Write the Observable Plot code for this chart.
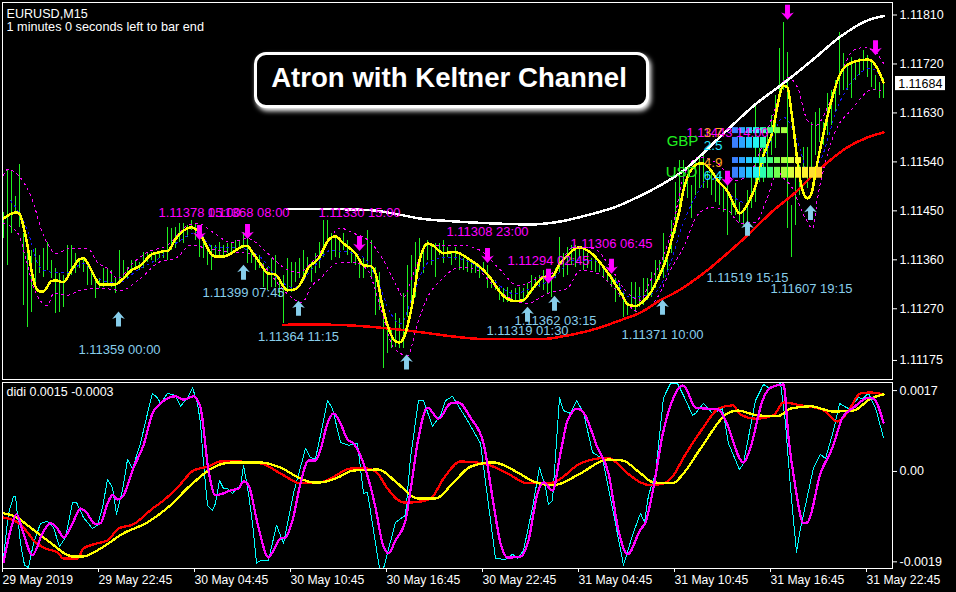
<!DOCTYPE html>
<html><head><meta charset="utf-8">
<script src="https://cdn.jsdelivr.net/npm/d3@7"></script>
<script src="https://cdn.jsdelivr.net/npm/@observablehq/plot@0.6"></script>
<style>
html,body{margin:0;padding:0;background:#000;width:956px;height:592px;overflow:hidden}
#wrap{position:relative;width:956px;height:592px}
#wrap svg{display:block;position:absolute;left:0}
#title{position:absolute;left:254px;top:52px;width:389px;height:50px;border:3px solid #fff;border-radius:12px;background:#000;box-shadow:2px 3px 5px #fff;color:#fff;font:bold 27.6px "Liberation Sans",Arial,sans-serif;text-align:center;line-height:46px;text-indent:-5px}
</style></head><body>
<div id="wrap"><div id="top"></div><div id="bottom"></div><div id="title">Atron with Keltner Channel</div></div>
<script>
// Prices are stored as the five decimals after "1." (11450 = 1.11450); x is the bar number (15-minute bars).
const highs=[11447,11526,11524,11477,11535,11409,11396,11377,11381,11368,11381,11392,11359,11344,11335,11331,11387,11387,11372,11363,11363,11350,11341,11328,11326,11344,11344,11341,11326,11377,11359,11346,11359,11359,11355,11374,11374,11374,11372,11372,11377,11420,11418,11420,11427,11427,11423,11432,11427,11420,11396,11387,11387,11387,11392,11387,11390,11390,11396,11396,11410,11409,11377,11363,11368,11354,11346,11363,11368,11328,11331,11363,11355,11355,11363,11377,11365,11355,11372,11392,11432,11432,11409,11401,11396,11409,11396,11381,11374,11355,11365,11414,11396,11346,11337,11280,11234,11230,11262,11252,11298,11350,11368,11392,11399,11387,11396,11387,11390,11390,11396,11383,11372,11383,11374,11363,11365,11355,11350,11346,11355,11350,11328,11322,11309,11308,11309,11304,11308,11309,11308,11317,11331,11328,11331,11341,11328,11322,11344,11401,11372,11383,11387,11387,11383,11383,11372,11363,11365,11355,11350,11341,11331,11326,11317,11300,11282,11319,11319,11309,11326,11326,11337,11359,11359,11409,11372,11432,11502,11543,11543,11515,11497,11539,11546,11552,11521,11521,11510,11515,11491,11510,11466,11500,11466,11447,11488,11524,11646,11565,11565,11598,11625,11662,11748,11796,11741,11460,11515,11534,11567,11567,11613,11631,11638,11613,11666,11671,11690,11778,11739,11717,11732,11723,11730,11745,11736,11723,11699,11686,11693];
const lows=[11399,11350,11409,11445,11420,11276,11236,11263,11304,11335,11328,11341,11326,11262,11263,11273,11326,11331,11335,11344,11337,11313,11313,11289,11308,11309,11313,11309,11298,11319,11322,11326,11335,11341,11341,11344,11355,11359,11355,11363,11363,11359,11377,11381,11392,11390,11401,11414,11396,11365,11363,11350,11341,11363,11368,11368,11372,11372,11377,11381,11381,11354,11354,11341,11344,11309,11304,11309,11309,11291,11243,11304,11300,11319,11326,11326,11335,11319,11335,11344,11365,11390,11359,11365,11363,11377,11368,11354,11350,11326,11326,11344,11328,11258,11267,11161,11188,11197,11199,11197,11197,11254,11262,11291,11341,11335,11359,11350,11328,11368,11354,11365,11350,11359,11341,11341,11337,11335,11335,11326,11337,11308,11308,11304,11286,11282,11282,11282,11282,11280,11282,11289,11298,11308,11309,11304,11298,11291,11326,11337,11328,11331,11350,11346,11363,11341,11344,11341,11337,11337,11326,11319,11309,11282,11291,11254,11258,11273,11263,11273,11276,11286,11291,11308,11322,11326,11341,11372,11409,11447,11478,11473,11436,11478,11491,11491,11491,11478,11466,11460,11447,11405,11442,11442,11429,11423,11429,11455,11466,11502,11502,11515,11552,11565,11649,11671,11418,11365,11423,11478,11510,11491,11515,11552,11576,11570,11589,11607,11631,11662,11671,11671,11657,11690,11699,11708,11695,11677,11671,11657,11657];
const maYellow=[[0,11436],[2,11445],[3,11447],[4,11445],[5,11421],[6,11387],[7,11341],[8,11311],[9,11302],[10,11302],[12,11321],[13,11322],[15,11319],[17,11341],[19,11361],[20,11363],[21,11354],[23,11326],[24,11315],[25,11315],[28,11315],[30,11326],[32,11341],[34,11348],[36,11363],[37,11370],[39,11374],[40,11376],[41,11376],[43,11398],[44,11407],[46,11418],[47,11420],[48,11416],[49,11411],[50,11396],[52,11370],[53,11366],[55,11366],[58,11377],[60,11385],[61,11385],[62,11376],[63,11366],[65,11344],[66,11335],[68,11333],[70,11311],[71,11304],[73,11306],[75,11326],[76,11343],[78,11357],[79,11365],[81,11394],[82,11401],[83,11403],[85,11390],[88,11372],[90,11350],[92,11348],[93,11335],[95,11267],[96,11240],[98,11210],[99,11208],[100,11216],[102,11271],[104,11359],[105,11381],[106,11390],[107,11388],[110,11372],[112,11374],[113,11374],[116,11363],[120,11341],[122,11324],[124,11302],[126,11288],[128,11284],[130,11286],[132,11304],[134,11322],[135,11328],[137,11328],[139,11352],[141,11368],[143,11381],[144,11383],[145,11381],[147,11372],[151,11337],[153,11315],[155,11291],[156,11278],[158,11275],[160,11284],[162,11302],[164,11332],[166,11368],[167,11396],[169,11451],[170,11488],[171,11512],[173,11534],[174,11537],[175,11537],[177,11523],[179,11502],[181,11486],[183,11456],[184,11445],[185,11451],[187,11477],[188,11495],[190,11552],[192,11590],[195,11680],[196,11677],[197,11631],[199,11515],[200,11482],[201,11473],[202,11482],[203,11521],[205,11592],[207,11653],[209,11699],[210,11712],[213,11725],[216,11728],[217,11726],[219,11704],[220,11686]];
const longWhite=[[71,11453],[85,11453],[92,11451],[99,11443],[104,11436],[112,11431],[122,11427],[132,11425],[138,11429],[146,11442],[154,11460],[159,11477],[162,11488],[170,11524],[180,11592],[188,11646],[196,11690],[203,11732],[209,11769],[216,11800],[220,11808]];
const longRed=[[70,11240],[72.5,11241],[77.5,11241],[85,11240],[96,11234],[104.25,11227],[112.5,11219],[121,11214],[134.25,11214],[141,11221],[148.5,11234],[154.25,11249],[159.25,11263],[164.25,11286],[167.5,11298],[176,11341],[181.75,11377],[186,11405],[192.5,11451],[198,11484],[201.75,11511],[206,11539],[211,11567],[216,11585],[220,11594]];
const upperBand=[[0,11515],[1,11526],[2.25,11524],[4.25,11511],[5.5,11497],[7.5,11464],[9.25,11420],[11,11390],[13,11372],[16.75,11381],[21,11381],[23.5,11355],[26,11344],[28.5,11326],[32.5,11355],[36,11374],[41,11387],[46,11423],[48.5,11427],[52.5,11410],[56.75,11392],[61,11399],[66,11372],[70,11346],[73.5,11337],[79.25,11374],[84.25,11418],[87.5,11409],[91.75,11392],[95,11359],[98.5,11309],[100,11291],[102.5,11335],[106,11387],[114.25,11387],[119.25,11377],[124.25,11341],[128.5,11313],[134.25,11328],[137.5,11337],[142.5,11383],[147.5,11381],[151.75,11346],[155,11308],[159.25,11286],[161.75,11322],[164.25,11354],[167.5,11427],[170,11512],[173.75,11548],[178.5,11537],[183,11506],[186.75,11521],[189.25,11561],[192.5,11629],[196,11695],[198.5,11677],[201,11616],[203,11607],[206.75,11653],[210,11714],[212.5,11745],[215,11750],[217.5,11745],[220,11721]];
const lowerBand=[[0,11427],[3.5,11410],[5.5,11365],[7.5,11309],[11,11276],[12.5,11298],[16,11295],[19.25,11304],[24.25,11308],[29.25,11304],[34.25,11326],[38.5,11354],[43.5,11365],[46.75,11387],[51,11381],[56.75,11374],[61,11372],[66,11341],[70,11304],[74.75,11282],[76.75,11309],[79.25,11326],[83.5,11354],[87.5,11355],[91,11341],[94.25,11273],[97.5,11199],[101,11184],[103.5,11243],[106,11291],[109.25,11322],[114.25,11346],[118.5,11341],[122.5,11313],[126.75,11289],[131,11280],[136,11298],[141,11308],[144.25,11341],[148.5,11335],[152.5,11309],[156.75,11273],[159.25,11263],[163.5,11291],[166.75,11341],[170,11383],[173.5,11442],[176.75,11456],[181,11451],[184.25,11427],[188,11429],[191,11475],[193.5,11521],[195.5,11506],[196.75,11497],[200.5,11436],[202.25,11418],[203.5,11473],[207.25,11583],[212.25,11638],[217.25,11673],[220,11671]];
const midBand=[[1.75,11469],[6.25,11409],[8.5,11354],[10,11341],[12.5,11337],[16,11337],[20,11354],[23.5,11326],[28.5,11317],[33.5,11341],[39.25,11365],[44.25,11396],[48.5,11410],[52.5,11383],[57.5,11383],[64.25,11365],[68.5,11326],[72.5,11309],[77.5,11346],[81.75,11377],[89.25,11368],[93.5,11322],[96.75,11262],[99.25,11243],[102.5,11298],[106,11354],[111,11365],[116.75,11355],[122.5,11322],[127.5,11298],[132.5,11309],[137.5,11326],[142.5,11359],[147.5,11359],[152.5,11326],[156.75,11291],[162.5,11298],[166.75,11354],[169.25,11414],[172.5,11469],[176.75,11511],[182.5,11475],[186,11464],[189.25,11524],[192.5,11592],[195,11622],[199.25,11561],[201,11519],[204.25,11543],[208.5,11640],[213.5,11699],[216.75,11712],[220,11690]];
const buyBars=[28.75,60,73.75,100.75,131,137.75,164.75,186,201.75];
const buyPrices=[11251,11337,11271,11172,11260,11280,11273,11418,11447];
const sellBars=[49,61,89,121,136.25,152,181,196,218];
const sellPrices=[11410,11412,11390,11368,11330,11348,11510,11815,11750];
const buyLabels=["1.11359 00:00","1.11399 07:45","1.11364 11:15","1.11319 01:30","1.11362 03:15","1.11371 10:00","1.11519 15:15","1.11607 19:15"];
const buyLabelBars=[29,60,73.75,131,138,164.75,186,202];
const buyLabelPrices=[11194,11300,11219,11229,11247,11223,11326,11306];
const sellLabels=["1.11378 05:00","1.11368 08:00","1.11330 15:00","1.11308 23:00","1.11294 02:45","1.11306 06:45","1.11443 14:00"];
const sellLabelBars=[49,61.25,89,121,136.25,152,181];
const sellLabelPrices=[11447,11447,11447,11412,11359,11390,11594];
const strengthColors=["#3a80ff","#2ca4ff","#24ccff","#22f4f0","#2cffb0","#3eff78","#72ff50","#a8ff40","#d8ff40","#ffff30","#fff030","#ffe030","#ffc830"];
const strengthCounts=[8,5,10,13];
const strengthTops=[11603,11585,11548,11530];
const strengthBottoms=[11592,11565,11537,11510];
const currencyNames=["GBP","USD"];
const currencyBars=[169.75,169.5];
const currencyPrices=[11578,11522];
const scoreTexts=["3.7","2.5","4.9","6.4"];
const scoreColors=["#ffa020","#22e8ff","#ffa020","#22e8ff"];
const scorePrices=[11594,11570,11539,11515];
const priceTicks=[11810,11720,11630,11540,11450,11360,11270,11175];
const lastPrice=11684;
// didi panel values are in units of 0.00001
const didiCyan=[[0,-181],[1.25,-88],[2.5,-53],[3,-53],[4.25,-151],[5.25,-197],[6.25,-202],[7.5,-151],[9.25,-109],[11,-105],[12.5,-118],[14,-158],[15.5,-139],[17.25,-65],[18.25,-65],[20,-97],[22.25,-120],[23.5,-113],[24.75,-76],[26,-17],[27.25,-34],[28.25,-90],[29.75,-40],[31,25],[32.25,6],[34.25,59],[36,122],[37.25,164],[38.5,155],[39.25,143],[41,164],[43,160],[44.25,137],[46,155],[47.25,176],[48.5,143],[49.25,101],[50,17],[51,-71],[52.25,-82],[53,-67],[54,-19],[55,-36],[56,-36],[57.25,-46],[58.5,-34],[59.25,-34],[60,13],[61.25,-46],[62.25,-109],[63.25,-193],[64.25,-187],[66.25,-187],[68.25,-113],[70,-151],[72.5,-46],[75.5,48],[76.75,29],[78,27],[79.25,76],[81,149],[82.25,132],[84.25,61],[86.25,55],[88.5,59],[90,-46],[91,-44],[94,-204],[95,-204],[98,-107],[100.5,-92],[101.75,29],[103.75,149],[105,149],[107.25,95],[109.25,118],[110.5,149],[112.25,158],[116,107],[119.25,59],[123,-183],[125.5,-185],[127.25,-174],[128.5,-183],[130,-166],[132.25,-76],[134,8],[135.5,-34],[136.25,-69],[137.25,-61],[139,155],[140,128],[141.75,122],[143.25,149],[145,124],[147.25,40],[149.75,27],[152.5,-88],[155,-197],[157.25,-134],[159.25,-88],[160.25,-107],[161.25,-50],[163,-4],[165,155],[166.75,185],[168.5,185],[170,160],[172.25,118],[173,122],[175,143],[177.25,122],[179.75,132],[181.25,59],[184,4],[185,17],[188,149],[190,183],[191.25,176],[194.25,185],[195.5,101],[196.75,-34],[198.25,-170],[199.25,-120],[202.5,8],[204.25,36],[205.5,27],[207.5,86],[209,143],[211.25,132],[213.75,155],[214.75,153],[216.25,164],[218,134],[220,71]];
const didiMagenta=[[0,-191],[1.75,-124],[3.25,-90],[4.75,-124],[7.25,-176],[9.75,-130],[11.75,-109],[13.5,-120],[15,-139],[17.25,-109],[19.25,-78],[20.5,-84],[23,-111],[24.25,-109],[26,-67],[27.25,-50],[28.5,-59],[30,-50],[32.5,8],[35,55],[37.25,122],[39.25,143],[43,158],[45,151],[47.5,158],[49.25,134],[51.25,2],[53,-50],[55,-46],[56.75,-40],[58.75,-36],[60,-21],[61.25,-29],[63.5,-109],[66.25,-181],[67.5,-166],[69.25,-141],[70.5,-139],[72.25,-103],[74.25,-25],[76.25,23],[78,23],[79.25,46],[81,101],[82.5,122],[84.25,101],[86,67],[87.5,59],[89.75,23],[93,-76],[94.75,-151],[96.25,-172],[98,-145],[100.5,-103],[101.75,-40],[103.75,71],[106,134],[108.75,111],[111.75,143],[113.75,145],[116.75,113],[120,59],[122.25,-55],[124.25,-151],[126,-181],[129.25,-179],[131.25,-145],[133.5,-46],[135,-23],[137.25,-40],[139.25,38],[141,107],[143.5,132],[145,124],[148.5,50],[151.25,-4],[153.75,-124],[156,-174],[159.25,-122],[160.5,-107],[162.5,-34],[164.75,76],[167.5,155],[169.75,181],[170.5,176],[173,134],[178.75,130],[180.5,107],[185,19],[186.75,50],[189.75,149],[191.75,176],[195,183],[196.25,71],[198,-34],[200,-109],[201,-107],[204.25,-4],[207.25,50],[209.75,113],[212.5,134],[216.25,155],[217.5,153],[220,103]];
const didiRed=[[0,-97],[3.5,-107],[6,-128],[7.5,-145],[10.5,-162],[13.5,-170],[15,-183],[18.5,-183],[20,-162],[23.5,-151],[26,-145],[28.75,-120],[32.5,-111],[37.25,-78],[40,-61],[43.5,-34],[47.5,2],[51,10],[54.25,21],[58,21],[64.25,17],[70,-8],[74.25,-25],[79.25,-23],[81.75,-15],[86.75,6],[91,6],[93.5,-4],[96,-36],[100,-65],[102.25,-65],[106.75,-57],[110,-15],[114.25,21],[120,17],[126,-4],[131,-25],[135,-25],[137.5,-23],[144.25,17],[151,29],[156,-4],[159.25,-23],[161.75,-29],[165,-25],[167.5,-8],[170,29],[174.75,90],[178.75,132],[182.25,139],[184.25,120],[188,111],[192.5,118],[195,145],[199.25,139],[204.75,130],[208.5,105],[211,124],[214.25,164],[216.75,166],[220,162]];
const didiYellow=[[0,-88],[3,-95],[6.75,-118],[11,-145],[17.5,-179],[19.75,-179],[24.25,-162],[30,-130],[36,-107],[41.75,-71],[46.75,-29],[54.25,15],[57.5,19],[64.25,19],[69.25,8],[74.25,-15],[77.25,-23],[79.25,-23],[83.5,-13],[87.5,2],[93.75,4],[98.5,-25],[103.5,-57],[108,-57],[112.5,-23],[116.75,10],[122.5,19],[128.5,-2],[132.5,-21],[137.5,-29],[144.25,-4],[151,25],[154.75,23],[159.25,-4],[162.5,-23],[167.25,-25],[170,-4],[174.25,48],[181,122],[183.5,128],[188.5,118],[193.5,116],[196.75,132],[201.75,137],[207.5,126],[212.5,128],[216.75,153],[220,162]];
const didiTicks=[170,0,-190];
const timeTicks=[0,24,48,72,96,120,144,168,192,216];
const timeLabels=["29 May 2019","29 May 22:45","30 May 04:45","30 May 10:45","30 May 16:45","30 May 22:45","31 May 04:45","31 May 10:45","31 May 16:45","31 May 22:45"];

const GREEN="#20f020",SKY="#87ceeb",MAG="#ff00ff",FONT='"Liberation Sans",Arial,sans-serif';
const xDomain=[-0.25,222.25];
const px=d=>d[0],py=d=>d[1];
const crisp={shapeRendering:"crispEdges"};
function arrow(dir){return {draw(c,s){const r=Math.sqrt(s/Math.PI)*dir,w=Math.abs(r);
  c.moveTo(0,-r);c.lineTo(w*.85,-r*.02);c.lineTo(w*.33,-r*.2);c.lineTo(w*.33,r);c.lineTo(-w*.33,r);c.lineTo(-w*.33,-r*.2);c.lineTo(-w*.85,-r*.02);c.closePath();}};}
const blocks=strengthCounts.flatMap((n,row)=>d3.range(n).map(k=>({row,k})));
const blockStart=182.25,blockStep=1.75,blockWide=1.5;

const topPlot=Plot.plot({
  width:956,height:380,marginLeft:2,marginRight:64,marginTop:2,marginBottom:1,
  style:{background:"#000",color:"#fff",fontFamily:FONT,fontSize:"12.5px"},
  x:{domain:xDomain,axis:null},
  y:{domain:[11140,11833],axis:null},
  marks:[
    Plot.ruleX(highs,{x:(d,i)=>i,y1:(d,i)=>lows[i],y2:d=>d,stroke:GREEN,strokeWidth:1,...crisp}),
    Plot.line(midBand,{x:px,y:py,stroke:"#1414ff",strokeWidth:1,strokeDasharray:"2,4",curve:"monotone-x",...crisp}),
    Plot.line(upperBand,{x:px,y:py,stroke:MAG,strokeWidth:1,strokeDasharray:"2,4",curve:"monotone-x",...crisp}),
    Plot.line(lowerBand,{x:px,y:py,stroke:MAG,strokeWidth:1,strokeDasharray:"2,4",curve:"monotone-x",...crisp}),
    Plot.line(longWhite,{x:px,y:py,stroke:"#fff",strokeWidth:2.5,curve:"monotone-x",...crisp}),
    Plot.line(longRed,{x:px,y:py,stroke:"#ff0000",strokeWidth:2.5,curve:"monotone-x",...crisp}),
    Plot.line(maYellow,{x:px,y:py,stroke:"#ffff00",strokeWidth:2.5,curve:"monotone-x",...crisp}),
    Plot.rect(blocks,{x1:d=>blockStart+d.k*blockStep,x2:d=>blockStart+d.k*blockStep+blockWide,y1:d=>strengthBottoms[d.row],y2:d=>strengthTops[d.row],fill:d=>strengthColors[d.k]}),
    Plot.dot(buyBars,{x:d=>d,y:(d,i)=>buyPrices[i],r:7.5,symbol:arrow(1),fill:SKY}),
    Plot.dot(sellBars,{x:d=>d,y:(d,i)=>sellPrices[i],r:7.5,symbol:arrow(-1),fill:MAG}),
    Plot.text(buyLabels,{x:(d,i)=>buyLabelBars[i],y:(d,i)=>buyLabelPrices[i],text:d=>d,fill:SKY,fontSize:13}),
    Plot.text(sellLabels,{x:(d,i)=>sellLabelBars[i],y:(d,i)=>sellLabelPrices[i],text:d=>d,fill:MAG,fontSize:13}),
    Plot.text(currencyNames,{x:(d,i)=>currencyBars[i],y:(d,i)=>currencyPrices[i],text:d=>d,fill:GREEN,fontSize:15}),
    Plot.text(scoreTexts,{x:177.4,y:(d,i)=>scorePrices[i],text:d=>d,fill:(d,i)=>scoreColors[i],fontSize:13.5}),
    Plot.rect([lastPrice],{x1:223,x2:235.5,y1:d=>d-13,y2:d=>d+13,fill:"#fff"}),
    Plot.text([lastPrice],{x:229.2,y:d=>d,text:d=>"1."+d,fill:"#000",fontSize:12.5}),
    Plot.axisY({anchor:"right",ticks:priceTicks,tickFormat:d=>"1."+d,tickSize:4,tickPadding:3,stroke:"#fff",fill:"#fff",fontSize:12.5,label:null}),
    Plot.text(["EURUSD,M15"],{frameAnchor:"top-left",dx:4,dy:6.5,text:d=>d,fill:"#fff",fontSize:12.6}),
    Plot.text(["1 minutes 0 seconds left to bar end"],{frameAnchor:"top-left",dx:4,dy:19,text:d=>d,fill:"#fff",fontSize:12.7}),
    Plot.frame({stroke:"#fff",strokeWidth:1})
  ]
});
topPlot.style.top="0px";
document.getElementById("top").append(topPlot);

const botPlot=Plot.plot({
  width:956,height:212,marginLeft:2,marginRight:64,marginTop:2,marginBottom:24,
  style:{background:"#000",color:"#fff",fontFamily:FONT,fontSize:"12.5px"},
  x:{domain:xDomain,axis:null},
  y:{domain:[-204,187],axis:null},
  marks:[
    Plot.line(didiCyan,{x:px,y:py,stroke:"#00ffff",strokeWidth:1,...crisp}),
    Plot.line(didiRed,{x:px,y:py,stroke:"#ff0000",strokeWidth:2.3,curve:"monotone-x",...crisp}),
    Plot.line(didiYellow,{x:px,y:py,stroke:"#ffff00",strokeWidth:2.3,curve:"monotone-x",...crisp}),
    Plot.line(didiMagenta,{x:px,y:py,stroke:MAG,strokeWidth:2.3,curve:"monotone-x",...crisp}),
    Plot.axisY({anchor:"right",ticks:didiTicks,tickFormat:d=>d===0?"0.00":(d/1e5).toFixed(4),tickSize:4,tickPadding:3,stroke:"#fff",fill:"#fff",fontSize:12.5,label:null}),
    Plot.axisX({anchor:"bottom",ticks:timeTicks,tickFormat:(d,i)=>timeLabels[i],textAnchor:"start",tickSize:4,tickPadding:3,dx:-1,stroke:"#fff",fill:"#fff",fontSize:12.2,label:null}),
    Plot.text(["didi 0.0015 -0.0003"],{frameAnchor:"top-left",dx:4,dy:5,text:d=>d,fill:"#fff",fontSize:12.5}),
    Plot.frame({stroke:"#fff",strokeWidth:1})
  ]
});
botPlot.style.top="380px";
document.getElementById("bottom").append(botPlot);
</script></body></html>
